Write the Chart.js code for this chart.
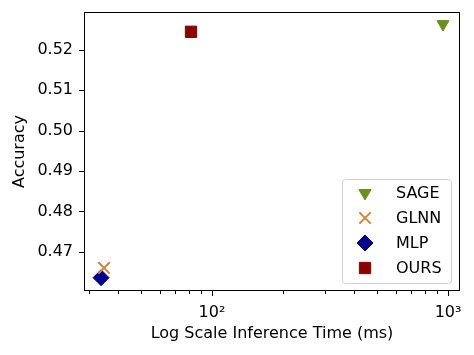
<!DOCTYPE html>
<html>
<head>
<meta charset="utf-8">
<script src="https://cdn.jsdelivr.net/npm/chart.js@4"></script>
<style>
  body { margin: 0; background: #fff; }
  #wrap { width: 474px; height: 355px; }
</style>
</head>
<body>
<div id="wrap"><canvas id="myChart" width="474" height="355"></canvas></div>
<script>
// values
var methods = ["SAGE", "GLNN", "MLP", "OURS"];
var timesMs = [952, 34.9, 33.9, 81.5];
var accuracy = [0.5264, 0.466, 0.4636, 0.5245];
var colors = ["#6b8e23", "#cd853f", "#00008b", "#8b0000"];
var shapes = ["triangle", "crossRot", "rectRot", "rect"];
var rotations = [180, 0, 0, 0];
var radii = [7, 8, 8, 8];

var yTicks = [0.47, 0.48, 0.49, 0.50, 0.51, 0.52];
var xMajor = [100, 1000];
var xMajorLabels = ["10²", "10³"];
var xMinor = [30, 40, 50, 60, 70, 80, 90, 200, 300, 400, 500, 600, 700, 800, 900];

var font = "'DejaVu Sans', sans-serif";

var datasets = methods.map(function (m, i) {
  return {
    label: m,
    data: [{ x: timesMs[i], y: accuracy[i] }],
    pointStyle: shapes[i],
    rotation: rotations[i],
    radius: radii[i],
    hoverRadius: radii[i],
    backgroundColor: colors[i],
    borderColor: colors[i],
    borderWidth: shapes[i] == "crossRot" ? 2 : 1
  };
});

// frame, tick marks and legend box like matplotlib
var framePlugin = {
  id: "frame",
  afterDraw: function (chart) {
    var ctx = chart.ctx;
    var a = chart.chartArea;
    var xs = chart.scales.x, ys = chart.scales.y;
    ctx.save();
    ctx.strokeStyle = "#000";
    ctx.lineWidth = 1;
    ctx.strokeRect(a.left + 0.5, a.top + 0.5, a.right - a.left - 1, a.bottom - a.top - 1);

    ctx.beginPath();
    xMajor.forEach(function (v) {
      var px = Math.round(xs.getPixelForValue(v)) + 0.5;
      ctx.moveTo(px, a.bottom); ctx.lineTo(px, a.bottom + 5);
    });
    xMinor.forEach(function (v) {
      var px = Math.round(xs.getPixelForValue(v)) + 0.5;
      ctx.moveTo(px, a.bottom); ctx.lineTo(px, a.bottom + 3);
    });
    yTicks.forEach(function (v) {
      var py = Math.round(ys.getPixelForValue(v)) + 0.5;
      ctx.moveTo(a.left, py); ctx.lineTo(a.left - 5, py);
    });
    ctx.stroke();

    // legend
    var w = 109, h = 104;
    var lx = a.right - 9 - w, ly = a.bottom - 8 - h;
    ctx.beginPath();
    ctx.roundRect(lx + 0.5, ly + 0.5, w, h, 3);
    ctx.fillStyle = "rgba(255,255,255,0.8)";
    ctx.fill();
    ctx.strokeStyle = "#d0d0d0";
    ctx.stroke();
    ctx.font = "16px " + font;
    ctx.textBaseline = "middle";
    methods.forEach(function (m, i) {
      var cy = ly + 14 + i * 25;
      ctx.fillStyle = colors[i];
      ctx.strokeStyle = colors[i];
      ctx.lineWidth = shapes[i] == "crossRot" ? 2 : 1;
      Chart.helpers.drawPoint(ctx, {
        pointStyle: shapes[i], rotation: rotations[i], radius: radii[i], borderWidth: ctx.lineWidth
      }, lx + 23, cy);
      ctx.fillStyle = "#000";
      ctx.fillText(m, lx + 54, cy + 1);
    });
    ctx.restore();
  }
};

new Chart(document.getElementById("myChart"), {
  type: "scatter",
  data: { datasets: datasets },
  options: {
    responsive: false,
    animation: false,
    layout: { padding: { top: 12, right: 14, left: 0, bottom: 0 } },
    plugins: { legend: { display: false }, tooltip: { enabled: false } },
    scales: {
      x: {
        type: "logarithmic",
        min: 28.7,
        max: 1124,
        afterBuildTicks: function (s) {
          s.ticks = xMajor.concat(xMinor).map(function (v) { return { value: v }; });
        },
        afterFit: function (s) { s.height = 64; },
        grid: { display: false, drawTicks: false },
        border: { display: false },
        ticks: {
          color: "#000",
          padding: 12,
          autoSkip: false,
          maxRotation: 0,
          font: { family: font, size: 16 },
          callback: function (v) {
            var k = xMajor.indexOf(v);
            return k >= 0 ? xMajorLabels[k] : "";
          }
        },
        title: {
          display: true,
          text: "Log Scale Inference Time (ms)",
          color: "#000",
          font: { family: font, size: 16 },
          padding: { top: 0, bottom: 12 }
        }
      },
      y: {
        min: 0.4603,
        max: 0.5294,
        afterBuildTicks: function (s) {
          s.ticks = yTicks.map(function (v) { return { value: v }; });
        },
        afterFit: function (s) { s.width = 84; s.paddingTop = 0; s.paddingBottom = 0; },
        grid: { display: false, drawTicks: false },
        border: { display: false },
        ticks: {
          color: "#000",
          padding: 11,
          font: { family: font, size: 16 },
          callback: function (v) { return v.toFixed(2); }
        },
        title: {
          display: true,
          text: "Accuracy",
          color: "#000",
          font: { family: font, size: 16 },
          padding: { top: 10, bottom: 0 }
        }
      }
    }
  },
  plugins: [framePlugin]
});
</script>
</body>
</html>
